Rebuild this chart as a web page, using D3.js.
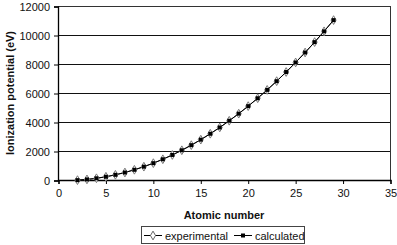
<!DOCTYPE html>
<html>
<head>
<meta charset="utf-8">
<script src="https://cdn.jsdelivr.net/npm/d3@7"></script>
<style>
  body { margin: 0; background: #fff; }
  text { font-family: "Liberation Sans", Arial, sans-serif; }
</style>
</head>
<body>
<script>
// atomic numbers and ionization potentials (eV)
var atomicNumbers = [2, 3, 4, 5, 6, 7, 8, 9, 10, 11, 12, 13, 14, 15, 16, 17, 18, 19, 20, 21, 22, 23, 24, 25, 26, 27, 28, 29];
var experimental = [25, 76, 154, 259, 392, 552, 739, 954, 1196, 1465, 1762, 2086, 2438, 2817, 3224, 3659, 4121, 4611, 5129, 5675, 6249, 6851, 7482, 8141, 8828, 9544, 10289, 11062];
var calculated = [24, 75, 153, 258, 391, 551, 738, 953, 1195, 1464, 1761, 2085, 2437, 2816, 3223, 3658, 4120, 4610, 5128, 5674, 6248, 6850, 7481, 8140, 8827, 9543, 10288, 11061];
var xTicks = [0, 5, 10, 15, 20, 25, 30, 35];
var yTicks = [0, 2000, 4000, 6000, 8000, 10000, 12000];
var seriesNames = ["experimental", "calculated"];

var W = 397, H = 245;
var svg = d3.select("body").append("svg").attr("width", W).attr("height", H);

var x = d3.scaleLinear().domain([0, 35]).range([58.5, 390.5]);
var y = d3.scaleLinear().domain([0, 12000]).range([180.5, 6.5]);

// gridlines
svg.append("g").selectAll("line").data(yTicks.slice(1)).enter().append("line")
  .attr("x1", x(0)).attr("x2", x(35))
  .attr("y1", function(d) { return Math.round(y(d) - 0.5) + 0.5; })
  .attr("y2", function(d) { return Math.round(y(d) - 0.5) + 0.5; })
  .attr("stroke", "#111").attr("stroke-width", 1);

// plot frame
svg.append("rect").attr("x", x(0)).attr("y", y(12000))
  .attr("width", x(35) - x(0)).attr("height", y(0) - y(12000))
  .attr("fill", "none").attr("stroke", "#333").attr("stroke-width", 1);

var xAxis = svg.append("g").attr("transform", "translate(0," + (y(0) - 0.5) + ")")
  .call(d3.axisBottom(x).tickValues(xTicks).tickSizeOuter(0).tickSize(4).tickPadding(5));
var yAxis = svg.append("g").attr("transform", "translate(" + (x(0) - 0.5) + ",0)")
  .call(d3.axisLeft(y).tickValues(yTicks).tickSizeOuter(0).tickSize(4).tickPadding(4).tickFormat(d3.format("d")));
[xAxis, yAxis].forEach(function(a) {
  a.select(".domain").attr("stroke", "#000").attr("stroke-width", 1.3);
  a.selectAll(".tick line").attr("stroke", "#000");
  a.selectAll("text").attr("font-size", "11px").attr("fill", "#111")
    .style("font-family", "'Liberation Sans', Arial, sans-serif");
});

// axis titles
svg.append("text").attr("x", 224).attr("y", 219).attr("text-anchor", "middle")
  .attr("font-size", "11px").attr("font-weight", "bold").attr("fill", "#111").text("Atomic number");
svg.append("text").attr("transform", "translate(14,93) rotate(-90)").attr("text-anchor", "middle")
  .attr("font-size", "11px").attr("font-weight", "bold").attr("fill", "#111").text("Ionization potential (eV)");

var line = d3.line().x(function(d) { return x(d[0]); }).y(function(d) { return y(d[1]); });
var expData = d3.zip(atomicNumbers, experimental);
var calcData = d3.zip(atomicNumbers, calculated);

svg.append("path").datum(expData).attr("d", line).attr("fill", "none").attr("stroke", "#333").attr("stroke-width", 1);
svg.append("path").datum(calcData).attr("d", line).attr("fill", "none").attr("stroke", "#000").attr("stroke-width", 1);

var diamond = d3.symbol().type(d3.symbolDiamond).size(22);
svg.append("g").selectAll("path").data(expData).enter().append("path")
  .attr("d", diamond)
  .attr("transform", function(d) { return "translate(" + x(d[0]) + "," + y(d[1]) + ")"; })
  .attr("fill", "#fff").attr("stroke", "#777").attr("stroke-width", 1);
svg.append("g").selectAll("rect").data(calcData).enter().append("rect")
  .attr("x", function(d) { return x(d[0]) - 2; }).attr("y", function(d) { return y(d[1]) - 2; })
  .attr("width", 4).attr("height", 4).attr("fill", "#000");

// legend
var lg = svg.append("g");
lg.append("rect").attr("x", 141.5).attr("y", 226.5).attr("width", 163).attr("height", 17)
  .attr("fill", "#fff").attr("stroke", "#444");
var lx = [144, 234];
seriesNames.forEach(function(name, i) {
  var g = lg.append("g").attr("transform", "translate(" + lx[i] + ",235.5)");
  g.append("line").attr("x1", 0).attr("x2", 18).attr("y1", 0).attr("y2", 0).attr("stroke", "#000");
  if (i === 0) {
    g.append("path").attr("d", diamond).attr("transform", "translate(9,0)")
      .attr("fill", "#fff").attr("stroke", "#666");
  } else {
    g.append("rect").attr("x", 7).attr("y", -2).attr("width", 4).attr("height", 4).attr("fill", "#000");
  }
  g.append("text").attr("x", 21).attr("y", 4).attr("font-size", "11px").attr("fill", "#111").text(name);
});
</script>
</body>
</html>
